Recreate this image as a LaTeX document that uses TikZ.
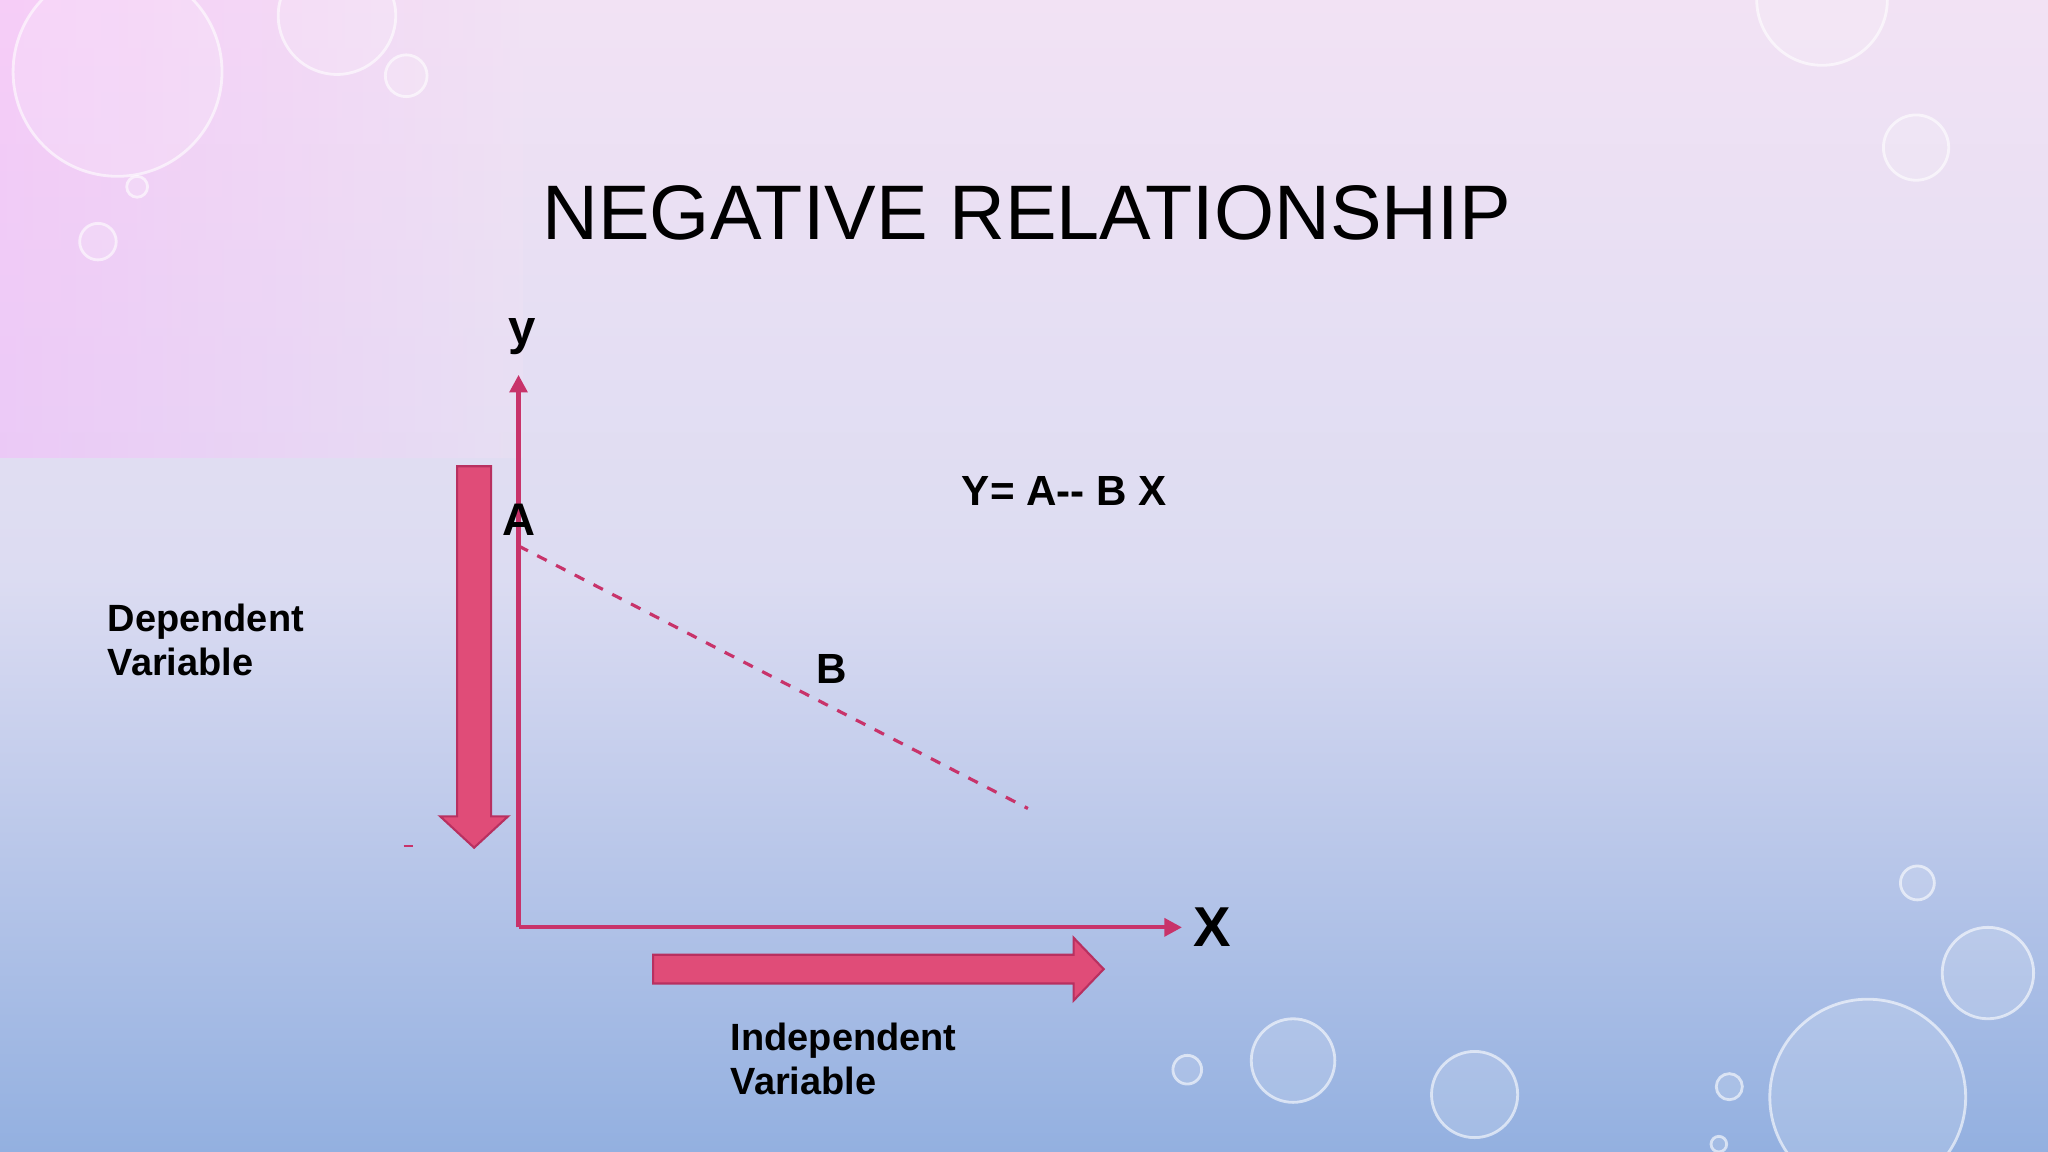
\documentclass[tikz,border=0pt]{standalone}
\usepackage{fontspec}
\setmainfont{Liberation Sans}
\usetikzlibrary{arrows.meta}
\definecolor{axis}{HTML}{C8336A}
\definecolor{blk}{HTML}{E04C78}
\definecolor{blkd}{HTML}{B83060}
\definecolor{bgtop}{HTML}{F2E2F4}
\definecolor{bgmid}{HTML}{DCDCF2}
\definecolor{bgbot}{HTML}{93B0E0}
\tikzset{
  ax/.style={draw=axis, line width=1.2pt, -{Triangle[length=5pt,width=5pt]}},
  lbl/.style={font=\bfseries\fontsize{10.8}{13.5}\selectfont, align=left, inner sep=0pt},
  blockarrow/.style={fill=blk, draw=blkd, line width=0.6pt},
  bubble/.style={fill=white, fill opacity=0.15, draw=white, draw opacity=0.6, line width=0.8pt}
}
\begin{document}
\begin{tikzpicture}[x=0.01306cm,y=-0.01306cm]
\useasboundingbox (0,0) rectangle (1568,882);
\shade[top color=bgtop, bottom color=bgbot, middle color=bgmid] (0,0) rectangle (1568,882);
\shade[left color=magenta!35!white, right color=bgtop, opacity=0.35] (0,0) rectangle (400,350);
% bubbles
\foreach \x/\y/\r in {90/55/80, 258/12/45, 311/58/16, 105/143/8, 75/185/14, 1395/0/50, 1467/113/25, 1468/676/13, 1522/745/35, 990/812/32, 909/819/11, 1129/838/33, 1324/832/10, 1430/840/75, 1316/876/6}
  \draw[bubble] (\x,\y) circle (\r);
% title
\node[font=\fontsize{22}{26}\selectfont] (title) at (786,163) {NEGATIVE RELATIONSHIP};
% axes
\coordinate (O) at (397,710);
\coordinate (ytop) at (397,287);
\coordinate (xend) at (905,710);
\draw[ax] (O) -- (ytop);
\draw[ax] (O) -- (xend);
\node[font=\bfseries\fontsize{14}{17}\selectfont] (ylab) at (400,258) {y};
\node[font=\bfseries\fontsize{16}{19}\selectfont] (xlab) at (928,710) {X};
% dashed line
\coordinate (dA) at (397,418);
\coordinate (dB) at (787,619);
\draw[axis, dashed, line width=0.9pt] (dA) -- (dB);
\node[lbl, font=\bfseries\fontsize{13}{16}\selectfont] (A) at (397,398) {A};
\node[lbl, font=\bfseries\fontsize{12}{15}\selectfont] (B) at (637,512) {B};
\node[lbl, font=\bfseries\fontsize{12}{15}\selectfont] (eq) at (815,376) {Y= A-{}- B X};
% block arrows
\draw[blockarrow] (350,357) -- (376,357) -- (376,625) -- (389,625) -- (363,649) -- (337,625) -- (350,625) -- cycle;
\draw[blockarrow] (500,731) -- (822,731) -- (822,718) -- (845,742) -- (822,766) -- (822,753) -- (500,753) -- cycle;
\node[lbl, anchor=north west] (dep) at (82,462) {Dependent\\[-1pt]Variable};
\node[lbl, anchor=north west] (ind) at (559,783) {Independent\\[-1pt]Variable};
\draw[axis, line width=0.5pt] (309,648) -- (316,648);
\end{tikzpicture}
\end{document}
